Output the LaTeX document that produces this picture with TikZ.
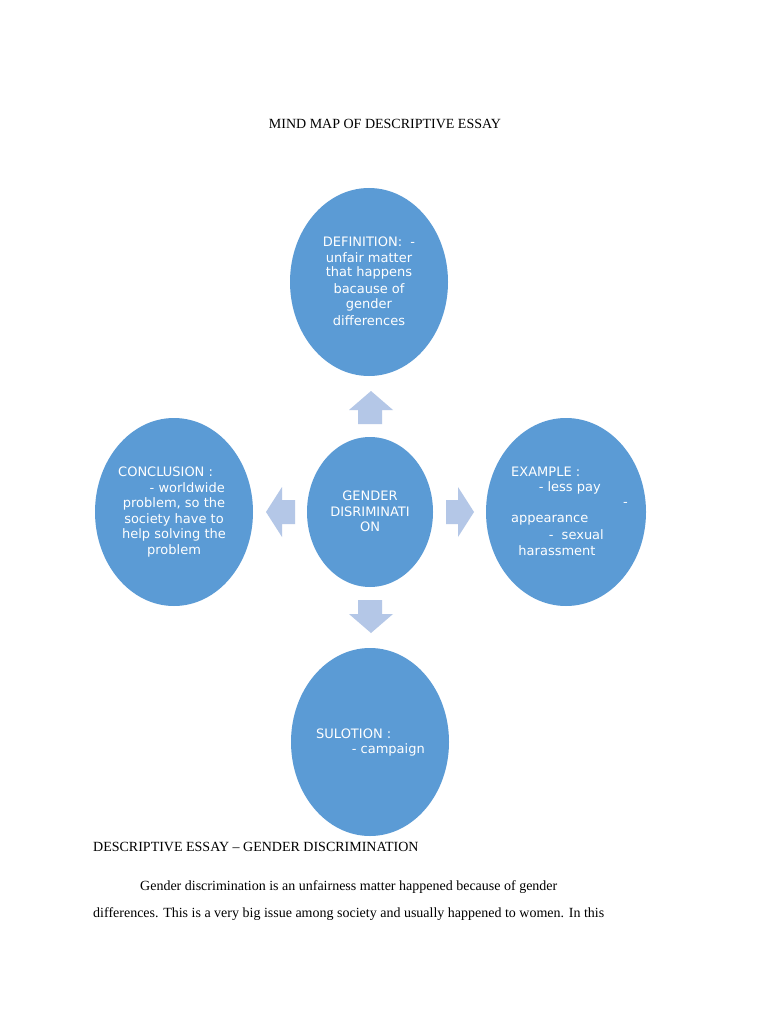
\documentclass[tikz,border=0pt]{standalone}
\usepackage{fontspec}
\setmainfont{Liberation Serif}
\newfontfamily\dv{DejaVu Sans}
\definecolor{blob}{HTML}{5B9BD5}
\definecolor{arr}{HTML}{B4C7E7}
\begin{document}
\begin{tikzpicture}[x=1pt,y=-1pt,
  bub/.style={ellipse,fill=blob,draw=none},
  lab/.style={font=\dv\fontsize{13}{15}\selectfont,text=white,inner sep=0pt},
  body/.style={font=\fontsize{14}{16}\selectfont,inner sep=0pt,anchor=base west},
  ar/.style={fill=arr,draw=none}]
\useasboundingbox (0,0) rectangle (768,1024);
\fill[white] (0,0) rectangle (768,1024);
\node[body,anchor=base] (title) at (385,129) {MIND MAP OF DESCRIPTIVE ESSAY};
% ellipses
\fill[blob] (369,282) ellipse [x radius=79,y radius=94];
\fill[blob] (370,512) ellipse [x radius=63,y radius=75];
\fill[blob] (174,512) ellipse [x radius=79,y radius=94];
\fill[blob] (566,512) ellipse [x radius=80,y radius=94];
\fill[blob] (370,742) ellipse [x radius=79,y radius=94];
% arrows
\fill[ar] (371,391) -- (393,410) -- (382,410) -- (382,424) -- (358,424) -- (358,410) -- (349,410) -- cycle;
\fill[ar] (371,633) -- (393,614) -- (382,614) -- (382,600) -- (358,600) -- (358,614) -- (349,614) -- cycle;
\fill[ar] (266,512) -- (282,487) -- (282,500) -- (295,500) -- (295,524) -- (282,524) -- (282,537) -- cycle;
\fill[ar] (474,512) -- (458,487) -- (458,500) -- (446,500) -- (446,524) -- (458,524) -- (458,537) -- cycle;
% top
\foreach \t/\y in {{DEFINITION:\ \ -}/242,{unfair matter}/258,{that happens}/273,{bacause of}/289,{gender}/305,{differences}/321}
  \node[lab] at (369,\y) {\t};
% center
\foreach \t/\y in {GENDER/496,DISRIMINATI/512,ON/527}
  \node[lab] at (370,\y) {\t};
% left
\node[lab,anchor=west] at (118,472) {CONCLUSION :};
\node[lab,anchor=east] at (225,488) {- worldwide};
\foreach \t/\y in {{problem, so the}/504,{society have to}/520,{help solving the}/535,{problem}/551}
  \node[lab] at (174,\y) {\t};
% right
\node[lab,anchor=west] at (511,472) {EXAMPLE :};
\node[lab,anchor=east] at (601,488) {- less pay};
\node[lab,anchor=east] at (628,504) {-};
\node[lab,anchor=west] at (511,520) {appearance};
\node[lab,anchor=east] at (604,535) {-\ \ sexual};
\node[lab] at (557,551) {harassment};
% bottom
\node[lab,anchor=west] at (316,734) {SULOTION :};
\node[lab,anchor=east] at (425,750) {- campaign};
% body text
\node[body] (h) at (93,851) {DESCRIPTIVE ESSAY -- GENDER DISCRIMINATION};
\node[body] (p1) at (140,890) {Gender discrimination is an unfairness matter happened because of gender};
\node[body] (p2) at (93,917) {differences. This is a very big issue among society and usually happened to women. In this};
\end{tikzpicture}
\end{document}
